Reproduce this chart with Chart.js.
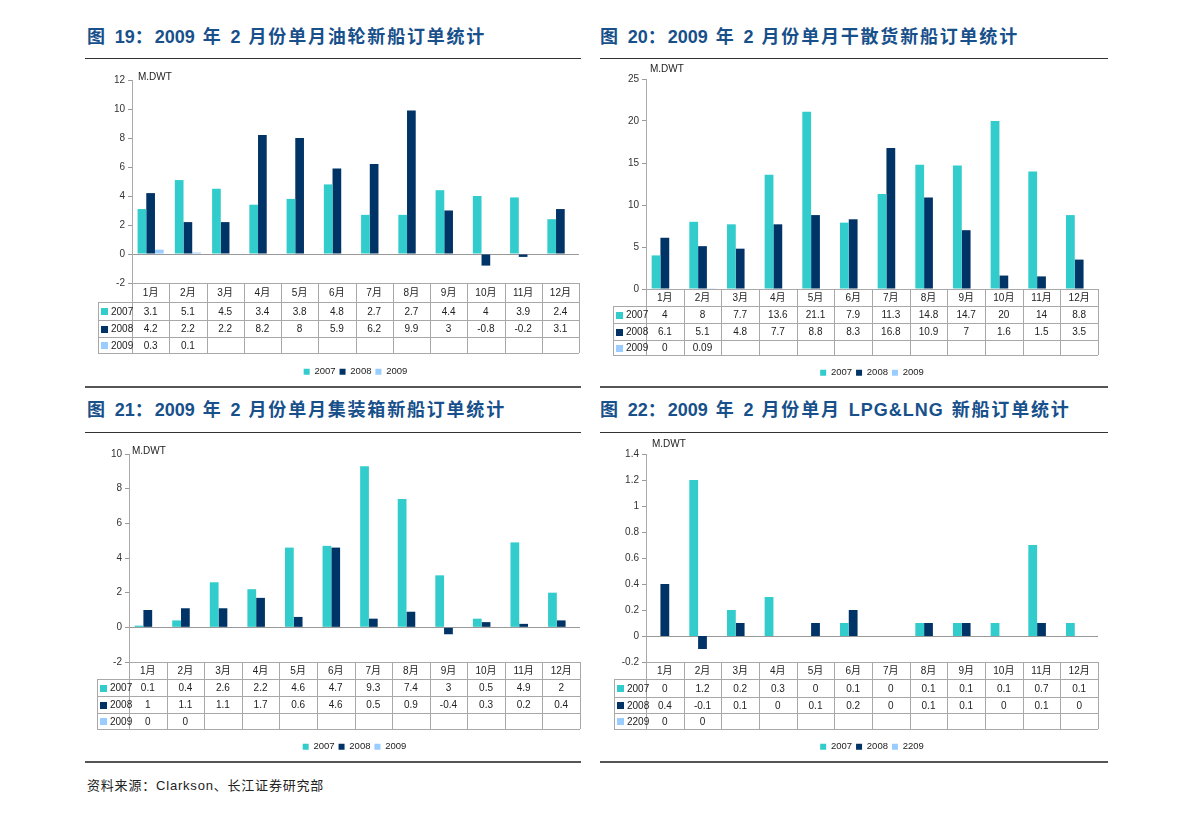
<!DOCTYPE html>
<html>
<head>
<meta charset="utf-8">
<script src="https://cdn.jsdelivr.net/npm/chart.js@4.4.1/dist/chart.umd.min.js"></script>
<style>
body{margin:0;background:#fff;width:1190px;height:814px;position:relative;overflow:hidden;font-family:"Liberation Sans","Noto Sans CJK SC",sans-serif;}
.title{position:absolute;font-size:18px;font-weight:bold;color:#17508a;word-spacing:3px;white-space:nowrap;line-height:22px;}
.title .c{letter-spacing:1.8px;}
.title .l{letter-spacing:1px;}
.rule{position:absolute;height:1px;background:#333;}
.rule.thick{height:2px;background:#555;}
.box{position:absolute;}
.foot{position:absolute;left:87px;top:777px;font-size:13px;letter-spacing:0.8px;color:#222;white-space:nowrap;line-height:18px;}
</style>
</head>
<body>
<div class="title" style="left:87px;top:26px"><span class="c">图</span> 19<span class="c">：</span>2009 <span class="c">年</span> 2 <span class="c">月份单月油轮新船订单统计</span></div>
<div class="title" style="left:600px;top:26px"><span class="c">图</span> 20<span class="c">：</span>2009 <span class="c">年</span> 2 <span class="c">月份单月干散货新船订单统计</span></div>
<div class="title" style="left:87px;top:399px"><span class="c">图</span> 21<span class="c">：</span>2009 <span class="c">年</span> 2 <span class="c">月份单月集装箱新船订单统计</span></div>
<div class="title" style="left:600px;top:399px"><span class="c">图</span> 22<span class="c">：</span>2009 <span class="c">年</span> 2 <span class="c">月份单月</span> <span class="l">LPG&amp;LNG</span> <span class="c">新船订单统计</span></div>

<div class="rule" style="left:85px;top:58px;width:496px"></div>
<div class="rule" style="left:600px;top:58px;width:508px"></div>
<div class="rule thick" style="left:85px;top:386px;width:496px"></div>
<div class="rule thick" style="left:600px;top:386px;width:508px"></div>
<div class="rule" style="left:85px;top:432px;width:496px"></div>
<div class="rule" style="left:600px;top:432px;width:508px"></div>
<div class="rule thick" style="left:85px;top:761px;width:496px"></div>
<div class="rule thick" style="left:600px;top:761px;width:508px"></div>

<div class="box" style="left:85px;top:62px"><canvas id="c1" width="500" height="330"></canvas></div>
<div class="box" style="left:598px;top:62px"><canvas id="c2" width="512" height="330"></canvas></div>
<div class="box" style="left:85px;top:436px"><canvas id="c3" width="500" height="330"></canvas></div>
<div class="box" style="left:598px;top:436px"><canvas id="c4" width="512" height="330"></canvas></div>

<div class="foot">资料来源：Clarkson、长江证券研究部</div>

<script>
const months = ['1月', '2月', '3月', '4月', '5月', '6月', '7月', '8月', '9月', '10月', '11月', '12月'];

// 油轮
const tanker2007 = [3.1, 5.1, 4.5, 3.4, 3.8, 4.8, 2.7, 2.7, 4.4, 4, 3.9, 2.4];
const tanker2008 = [4.2, 2.2, 2.2, 8.2, 8, 5.9, 6.2, 9.9, 3, -0.8, -0.2, 3.1];
const tanker2009 = [0.3, 0.1];
// 干散货
const bulk2007 = [4, 8, 7.7, 13.6, 21.1, 7.9, 11.3, 14.8, 14.7, 20, 14, 8.8];
const bulk2008 = [6.1, 5.1, 4.8, 7.7, 8.8, 8.3, 16.8, 10.9, 7, 1.6, 1.5, 3.5];
const bulk2009 = [0, 0.09];
// 集装箱
const box2007 = [0.1, 0.4, 2.6, 2.2, 4.6, 4.7, 9.3, 7.4, 3, 0.5, 4.9, 2];
const box2008 = [1, 1.1, 1.1, 1.7, 0.6, 4.6, 0.5, 0.9, -0.4, 0.3, 0.2, 0.4];
const box2009 = [0, 0];
// LPG&LNG
const gas2007 = [0, 1.2, 0.2, 0.3, 0, 0.1, 0, 0.1, 0.1, 0.1, 0.7, 0.1];
const gas2008 = [0.4, -0.1, 0.1, 0, 0.1, 0.2, 0, 0.1, 0.1, 0, 0.1, 0];
const gas2209 = [0, 0];

const yearNames = ['2007', '2008', '2009'];
const gasNames = ['2007', '2008', '2209'];
const colors = ['#33cccc', '#003366', '#99ccff'];

Chart.defaults.font.family = '"Liberation Sans","Noto Sans CJK SC",sans-serif';

// draws the data table under the plot, columns follow the x scale
const tablePlugin = {
    id: 'dataTable',
    afterDraw(chart, args, opts) {
        const ctx = chart.ctx;
        const area = chart.chartArea;
        const n = chart.data.labels.length;
        const w = (area.right - area.left) / n;
        const rows = opts.rows;
        const ys = [area.bottom];
        rows.forEach(h => ys.push(ys[ys.length - 1] + h));
        const px = v => Math.round(v) + 0.5;

        ctx.save();
        ctx.strokeStyle = '#a8a8a8';
        ctx.lineWidth = 1;
        ctx.beginPath();
        ctx.moveTo(area.left, px(ys[0]));
        ctx.lineTo(area.right, px(ys[0]));
        for (let r = 1; r < ys.length; r++) {
            ctx.moveTo(opts.labelLeft, px(ys[r]));
            ctx.lineTo(area.right, px(ys[r]));
        }
        for (let i = 0; i <= n; i++) {
            const x = px(area.left + i * w);
            ctx.moveTo(x, ys[0]);
            ctx.lineTo(x, ys[ys.length - 1]);
        }
        ctx.moveTo(px(opts.labelLeft), ys[1]);
        ctx.lineTo(px(opts.labelLeft), ys[ys.length - 1]);
        ctx.stroke();

        ctx.fillStyle = '#222';
        ctx.font = '10px "Liberation Sans","Noto Sans CJK SC",sans-serif';
        ctx.textAlign = 'center';
        ctx.textBaseline = 'middle';
        const xs = chart.scales.x;
        chart.data.labels.forEach((lab, i) => {
            ctx.fillText(lab, xs.getPixelForValue(i), (ys[0] + ys[1]) / 2 + 1);
        });
        chart.data.datasets.forEach((ds, r) => {
            const cy = (ys[r + 1] + ys[r + 2]) / 2 + 1;
            ctx.fillStyle = ds.backgroundColor;
            ctx.fillRect(opts.labelLeft + 3, Math.round(cy - 4), 7, 7);
            ctx.fillStyle = '#222';
            ctx.textAlign = 'left';
            ctx.fillText(ds.label, opts.labelLeft + 13, cy);
            ctx.textAlign = 'center';
            ds.data.forEach((v, i) => {
                if (v === null || v === undefined) return;
                ctx.fillText(String(v), xs.getPixelForValue(i), cy);
            });
        });

        // unit label
        ctx.textAlign = 'left';
        ctx.font = '10px "Liberation Sans",sans-serif';
        ctx.fillText('M.DWT', area.left + opts.unitX, area.top + opts.unitY);
        ctx.restore();
    }
};

function makeChart(id, names, series, cfg) {
    const datasets = series.map((d, k) => ({
        label: names[k],
        data: months.map((m, i) => (i < d.length ? d[i] : null)),
        backgroundColor: colors[k],
        borderWidth: 0,
        categoryPercentage: 0.7,
        barPercentage: 1
    }));
    return new Chart(document.getElementById(id), {
        type: 'bar',
        data: { labels: months, datasets: datasets },
        plugins: [tablePlugin],
        options: {
            responsive: false,
            animation: false,
            layout: { padding: { top: cfg.top, right: cfg.right, bottom: cfg.bottom, left: 0 } },
            plugins: {
                tooltip: { enabled: false },
                legend: {
                    position: 'bottom',
                    fullSize: false,
                    labels: { boxWidth: 6, boxHeight: 6, padding: 4, color: '#222', font: { size: 9.5 } }
                },
                dataTable: { rows: cfg.rows, labelLeft: cfg.labelLeft, unitX: cfg.unitX, unitY: cfg.unitY }
            },
            scales: {
                x: {
                    ticks: { display: false },
                    grid: { display: false },
                    border: { display: false },
                    afterFit: s => { s.height = cfg.xH; }
                },
                y: {
                    min: cfg.min,
                    max: cfg.max,
                    ticks: {
                        stepSize: cfg.step,
                        color: '#333',
                        font: { size: 10 },
                        padding: 3,
                        callback: v => String(Math.round(v * 10) / 10)
                    },
                    grid: {
                        color: c => (c.tick && Math.abs(c.tick.value) < 1e-9 ? '#999' : 'rgba(0,0,0,0)'),
                        tickColor: '#999',
                        tickLength: 4
                    },
                    border: { color: '#aaa' },
                    afterFit: s => { s.width = cfg.yW; }
                }
            }
        }
    });
}

makeChart('c1', yearNames, [tanker2007, tanker2008, tanker2009], {
    min: -2, max: 12, step: 2, top: 18, right: 6, bottom: 5.5, xH: 80, yW: 47,
    rows: [19, 18, 17, 16], labelLeft: 13, unitX: 6, unitY: -3
});
makeChart('c2', yearNames, [bulk2007, bulk2008, bulk2009], {
    min: 0, max: 25, step: 5, top: 17, right: 12, bottom: 4.5, xH: 75, yW: 48,
    rows: [17, 17, 17, 15], labelLeft: 15, unitX: 4, unitY: -10
});
makeChart('c3', yearNames, [box2007, box2008, box2009], {
    min: -2, max: 10, step: 2, top: 18, right: 5, bottom: 4.5, xH: 76, yW: 44,
    rows: [17, 17, 17, 16], labelLeft: 12, unitX: 3, unitY: -3
});
makeChart('c4', gasNames, [gas2007, gas2008, gas2209], {
    min: -0.2, max: 1.4, step: 0.2, top: 18, right: 12, bottom: 4.5, xH: 76, yW: 48,
    rows: [17, 18, 16, 16], labelLeft: 16, unitX: 6, unitY: -10
});
</script>
</body>
</html>
